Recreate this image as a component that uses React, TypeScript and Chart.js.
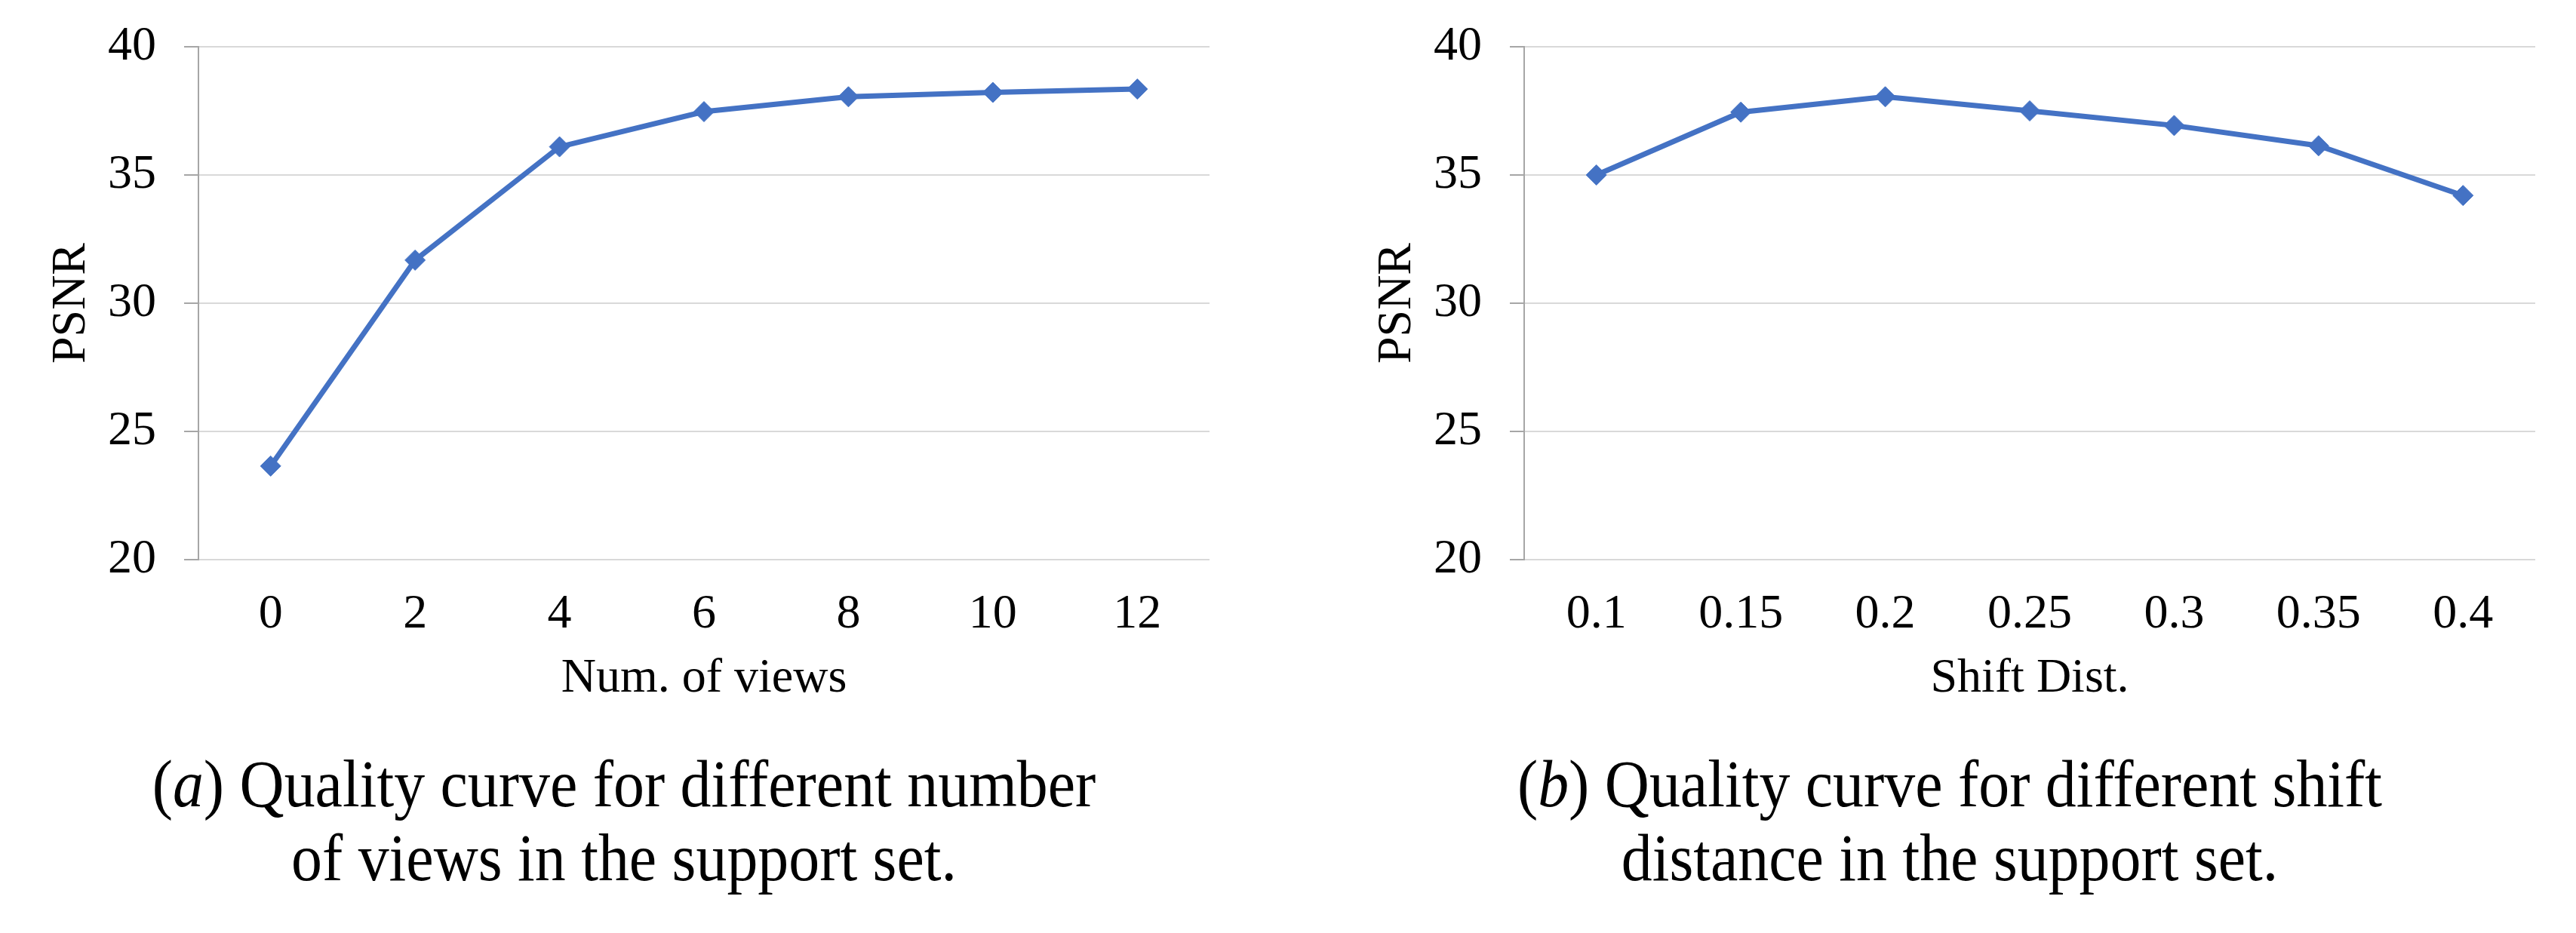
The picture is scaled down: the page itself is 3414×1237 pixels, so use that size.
import React, { useEffect, useRef } from "react";
import { Chart, registerables } from "chart.js";

Chart.register(...registerables);

// ---- data ----
const viewsLabels = ["0", "2", "4", "6", "8", "10", "12"];
const viewsPSNR = [23.65, 31.68, 36.1, 37.47, 38.05, 38.22, 38.35];

const shiftLabels = ["0.1", "0.15", "0.2", "0.25", "0.3", "0.35", "0.4"];
const shiftPSNR = [35.0, 37.45, 38.05, 37.5, 36.93, 36.14, 34.2];

const yTicks = [20, 25, 30, 35, 40];

const yTitle = "PSNR";
const xTitleA = "Num. of views";
const xTitleB = "Shift Dist.";

const FONT = "'Liberation Serif', 'Times New Roman', Times, serif";
const BLUE = "#4472C4";

type LineProps = {
  labels: string[];
  values: number[];
  xTitle: string;
  left: number;
};

function LineChart({ labels, values, xTitle, left }: LineProps) {
  const ref = useRef<HTMLCanvasElement | null>(null);
  useEffect(() => {
    if (!ref.current) return;
    const chart = new Chart(ref.current, {
      type: "line",
      data: {
        labels,
        datasets: [
          {
            data: values,
            borderColor: BLUE,
            backgroundColor: BLUE,
            borderWidth: 7,
            tension: 0,
            pointStyle: "rectRot",
            pointRadius: 13.5,
            pointBorderWidth: 1,
            pointBackgroundColor: BLUE,
            pointBorderColor: BLUE,
          },
        ],
      },
      options: {
        responsive: false,
        animation: false,
        devicePixelRatio: 1,
        layout: { padding: { top: 62, right: 47, bottom: 0, left: 0 } },
        plugins: {
          legend: { display: false },
          tooltip: { enabled: false },
          title: { display: false },
        },
        scales: {
          x: {
            type: "category",
            offset: true,
            grid: { display: false, drawTicks: false, tickLength: 0 },
            border: { display: false },
            ticks: {
              color: "#000",
              font: { family: FONT, size: 64, lineHeight: 1.2 },
              padding: 35,
              maxRotation: 0,
              minRotation: 0,
              autoSkip: false,
            },
            title: {
              display: true,
              text: xTitle,
              color: "#000",
              font: { family: FONT, size: 64, lineHeight: 1.2 },
              padding: { top: 0, bottom: 21 },
            },
            afterFit: (s: any) => {
              s.height = 218;
              s.paddingLeft = 0;
              s.paddingRight = 0;
            },
          },
          y: {
            min: yTicks[0],
            max: yTicks[yTicks.length - 1],
            grid: {
              color: "#d9d9d9",
              lineWidth: 2,
              tickColor: "#a6a6a6",
              tickLength: 19,
              tickWidth: 2,
            },
            border: { color: "#a6a6a6", width: 2 },
            ticks: {
              stepSize: yTicks[1] - yTicks[0],
              color: "#000",
              font: { family: FONT, size: 64, lineHeight: 1.2 },
              padding: 37,
            },
            title: {
              display: true,
              text: yTitle,
              color: "#000",
              font: { family: FONT, size: 64, lineHeight: 1.2 },
              padding: { top: 57, bottom: 0 },
            },
            afterFit: (s: any) => {
              s.width = 263;
              s.paddingTop = 0;
              s.paddingBottom = 0;
            },
          },
        },
      },
    } as any);
    return () => chart.destroy();
  }, []);
  return (
    <canvas
      ref={ref}
      width={1650}
      height={960}
      style={{ position: "absolute", left, top: 0, width: 1650, height: 960 }}
    />
  );
}

const captionStyle = (center: number): React.CSSProperties => ({
  position: "absolute",
  left: center - 900,
  top: 991,
  width: 1800,
  textAlign: "center",
  fontFamily: FONT,
  fontSize: 88,
  lineHeight: "98px",
  color: "#000",
  transform: "scaleX(0.93)",
  transformOrigin: "50% 0",
  whiteSpace: "nowrap",
});

export default function App() {
  return (
    <div
      style={{
        position: "absolute",
        left: 0,
        top: 0,
        width: 3414,
        height: 1237,
        background: "#fff",
        overflow: "hidden",
      }}
    >
      <LineChart labels={viewsLabels} values={viewsPSNR} xTitle={xTitleA} left={0} />
      <LineChart labels={shiftLabels} values={shiftPSNR} xTitle={xTitleB} left={1757} />
      <div style={captionStyle(827)}>
        (<i>a</i>) Quality curve for different number
        <br />
        of views in the support set.
      </div>
      <div style={captionStyle(2584)}>
        (<i>b</i>) Quality curve for different shift
        <br />
        distance in the support set.
      </div>
    </div>
  );
}
